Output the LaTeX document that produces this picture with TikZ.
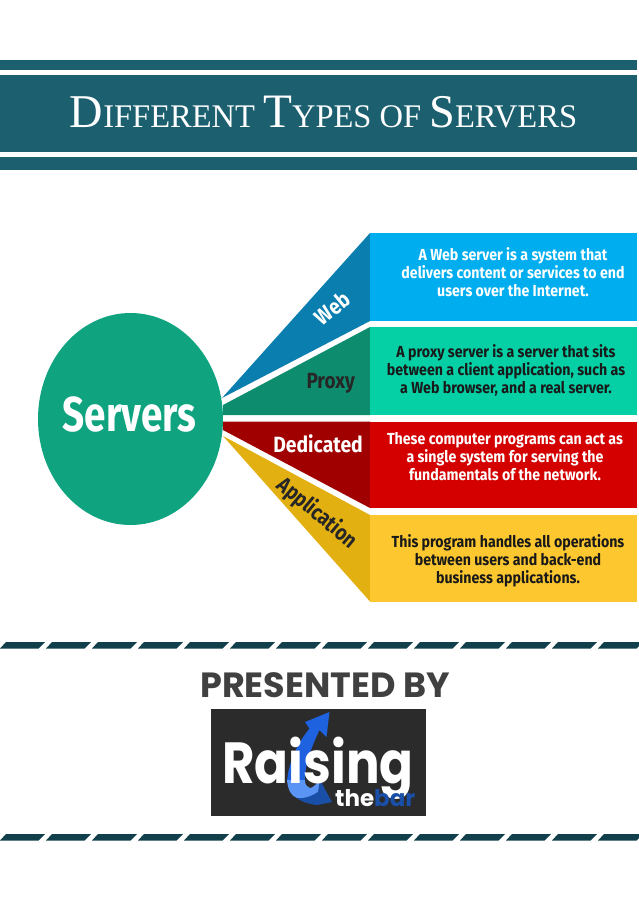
\documentclass[tikz,border=0pt]{standalone}
\usepackage{fontspec}
\setmainfont{Liberation Serif}
\newfontfamily\panelfont{Fira Sans}
\newfontfamily\byfont{Poppins}
\definecolor{bandteal}{HTML}{1C6070}
\definecolor{stripeteal}{HTML}{123F4C}
\definecolor{circlegreen}{HTML}{0FA37F}
\definecolor{webpanel}{HTML}{00AEEF}
\definecolor{webwedge}{HTML}{0B7EB0}
\definecolor{proxypanel}{HTML}{05CFA5}
\definecolor{proxywedge}{HTML}{0E8D6E}
\definecolor{dedipanel}{HTML}{D40000}
\definecolor{dediwedge}{HTML}{A00000}
\definecolor{apppanel}{HTML}{FDC82F}
\definecolor{appwedge}{HTML}{E2B010}
\definecolor{logoblue}{HTML}{1F62E0}
\definecolor{logolight}{HTML}{5A94F5}
\definecolor{logodark}{HTML}{1A4FA8}
\newcommand{\initcap}[1]{{\fontsize{47}{47}\selectfont #1}}
\newcommand{\tallcap}[1]{{\fontsize{48}{48}\selectfont #1}}
\newcommand{\squeeze}[2]{\scalebox{#1}[1]{#2}}
\tikzset{
  paneltext/.style={font=\panelfont\bfseries\fontsize{16}{18}\selectfont,align=center,inner sep=0pt},
  tablabel/.style={font=\panelfont\bfseries\fontsize{22}{24}\selectfont,inner sep=0pt},
}
\begin{document}
\begin{tikzpicture}[x=1pt,y=-1pt]
    \useasboundingbox (0,0) rectangle (638,902);
    \fill[bandteal] (0,59.5) rectangle (636.5,69.5);
    \fill[bandteal] (0,74.5) rectangle (636.5,151.5);
    \fill[bandteal] (0,156.5) rectangle (636.5,170);
    \node[text=white,font=\fontsize{33}{33}\selectfont,anchor=base,inner sep=0pt] (title) at (323.5,127) {\squeeze{.985}{\initcap{D}IFFERENT \tallcap{T}YPES OF \initcap{S}ERVERS}};
    \fill[webwedge] (222,398) -- (370,233) -- (370,321) -- cycle;
    \fill[proxywedge] (223,405) -- (370,327) -- (370,415) -- (223,415) -- cycle;
    \fill[dediwedge] (223,421.5) -- (370,421.5) -- (370,508) -- (223,430) -- cycle;
    \fill[appwedge] (223,436) -- (370,515) -- (370,601.5) -- cycle;
    \fill[webpanel] (370,233) rectangle (636.5,321);
    \fill[proxypanel] (370,327) rectangle (636.5,415);
    \fill[dedipanel] (370,421.5) rectangle (636.5,508);
    \fill[apppanel] (370,515) rectangle (636.5,601.5);
    \fill[circlegreen] (130.5,419) ellipse (92.5 and 106);
    \node[text=white,font=\panelfont\bfseries\fontsize{49}{49}\selectfont,anchor=base,inner sep=0pt] (servers) at (129.5,431) {\squeeze{.79}{Servers}};
    \node[tablabel,text=white,rotate=40] (web) at (332,308) {\squeeze{.86}{Web}};
    \node[tablabel,text=black!85,anchor=base east] (proxy) at (355,388) {\squeeze{.86}{Proxy}};
    \node[tablabel,text=white,anchor=base east] (dedicated) at (363,452) {\squeeze{.88}{Dedicated}};
    \node[tablabel,text=black!85,rotate=-40] (application) at (317,513) {\squeeze{.84}{Application}};
    \node[paneltext,text=white] (webtext) at (513,275) {\squeeze{.886}{\begin{tabular}{@{}c@{}}A Web server is a system that\\delivers content or services to end\\users over the Internet.\end{tabular}}};
    \node[paneltext,text=black!90] (proxytext) at (506,372) {\squeeze{.886}{\begin{tabular}{@{}c@{}}A proxy server is a server that sits\\between a client application, such as\\a Web browser, and a real server.\end{tabular}}};
    \node[paneltext,text=white] (dedicatedtext) at (505,459) {\squeeze{.886}{\begin{tabular}{@{}c@{}}These computer programs can act as\\a single system for serving the\\fundamentals of the network.\end{tabular}}};
    \node[paneltext,text=black!90] (applicationtext) at (508,562) {\squeeze{.886}{\begin{tabular}{@{}c@{}}This program handles all operations\\between users and back-end\\business applications.\end{tabular}}};
    \foreach \y in {642,834} {
      \foreach \k in {0,...,13} {
        \fill[stripeteal] ({46*\k},\y+6.5) -- ({46*\k+6},\y) -- ({46*\k+45},\y) -- ({46*\k+38.5},\y+6.5) -- cycle;
      }
    }
    \node[text=black!75,font=\byfont\bfseries\fontsize{35}{35}\selectfont] (presented) at (325,685.5) {PRESENTED BY};
    \fill[black!83] (211,708.5) rectangle (425.5,816);
    \fill[logoblue] (305,722) -- (329.5,712) -- (326.5,737) -- (319.5,730) .. controls (310,750) and (304,768) .. (305,782) -- (287,782) .. controls (288,765) and (296,745) .. (309.5,728.5) -- cycle;
    \fill[logolight] (287,780) .. controls (288,790) and (291,796) .. (297,798) -- (318,800) -- (320,780) .. controls (316,785) and (312,788) .. (310,788) .. controls (307,787) and (305,785) .. (305,780) -- cycle;
    \fill[logodark] (320,780) -- (332,802) -- (317,805) .. controls (308,804) and (300,801) .. (297,798) .. controls (305,799) and (312,796) .. (318,792) -- cycle;
    \node[text=white,font=\byfont\bfseries\fontsize{58}{58}\selectfont,anchor=base,inner sep=0pt] (raising) at (318,783) {\squeeze{.86}{Raising}};
    \node[font=\byfont\bfseries\fontsize{23}{23}\selectfont,anchor=base west,inner sep=0pt] (thebar) at (335,806.5) {\textcolor{white}{the}\textcolor{logodark}{bar}};
    \end{tikzpicture}
\end{document}
